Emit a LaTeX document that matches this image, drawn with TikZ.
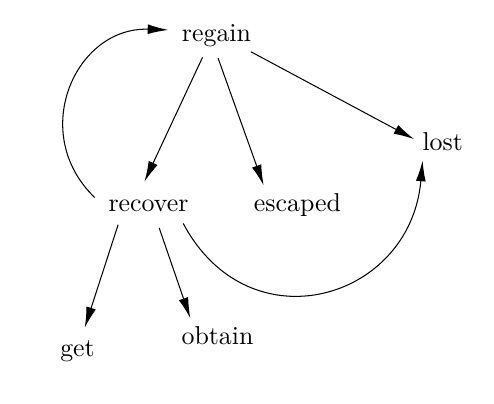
\documentclass[tikz,border=0pt]{standalone}
\usepackage{amsmath}
\usepackage{tikz}
\usetikzlibrary{arrows.meta, shapes.geometric}
\tikzstyle{word} = [ellipse, inner sep=0pt, minimum height=0.62cm,
    text height=1.6ex, text depth=0.4ex]
\tikzstyle{link} = [-{Latex[length=8pt,width=3.8pt]}, line width=0.4pt]
\begin{document}
\begin{tikzpicture}[x=0.0136cm,y=0.0136cm]

	\useasboundingbox (0,0) rectangle (494,404);

	% words
	\node [word] (regain)  at (216.5,369) {regain};
	\node [word] (recover) at (148.5,199) {recover};
	\node [word] (escaped) at (297.5,199) {escaped};
	\node [word] (lost)    at (442.7,260.3) {lost};
	\node [word] (obtain)  at (217.5,66) {obtain};
	\node [word] (get)     at (77.5,54) {get};

	% straight links
	\draw[link] (regain.238) to (recover.100);
	\draw[link] (regain.-86) to (escaped.150);
	\draw[link] (regain.-26) to (lost.171);
	\draw[link] (recover.-147) to (get.72);
	\draw[link] (recover.-65) to (obtain.144);

	% bent links
	\draw[link] (recover.-28) to[out=-62, in=-95, looseness=1.45] (lost.-140);
	\draw[link] (recover.172) to[out=136, in=178, looseness=1.3] (regain.174);
\end{tikzpicture}
\end{document}
